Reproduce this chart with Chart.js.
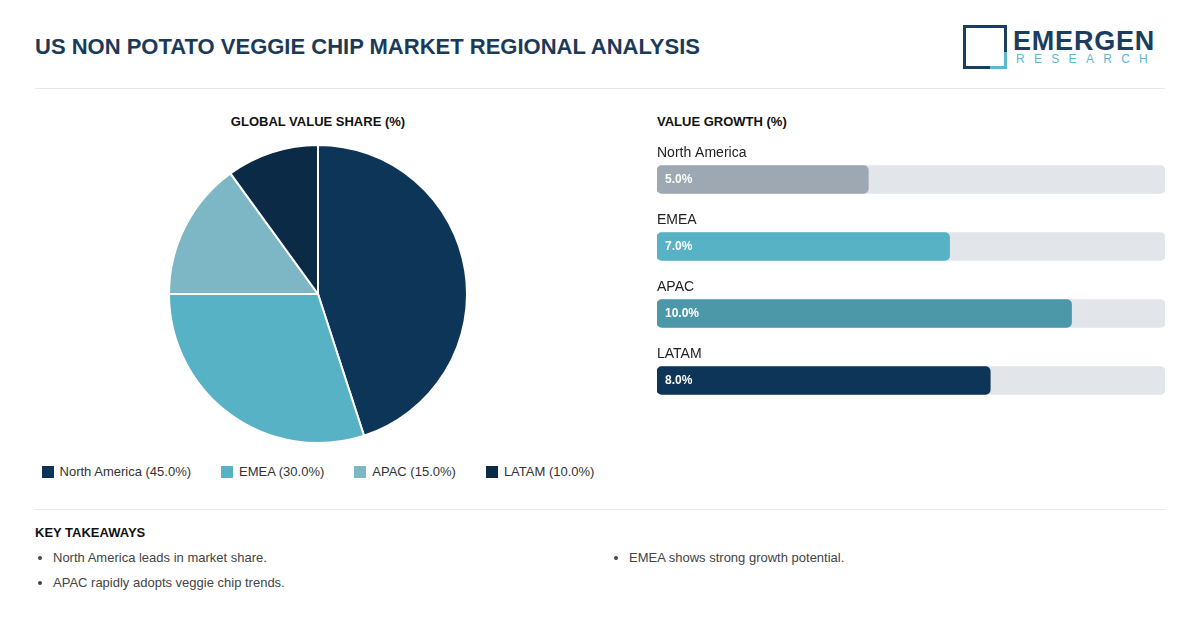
<!DOCTYPE html>
<html>
<head>
<meta charset="utf-8">
<script src="https://cdn.jsdelivr.net/npm/chart.js@4.4.1/dist/chart.umd.min.js"></script>
<style>
  body { margin: 0; background: #fff; font-family: "Liberation Sans", Arial, sans-serif; }
  #page { position: relative; width: 1200px; height: 620px; overflow: hidden; }
  .abs { position: absolute; }
  #title { left: 35px; top: 34px; font-size: 22px; font-weight: bold; color: #1b3a5a; line-height: 26px; }
  .rule { left: 35px; width: 1130px; height: 1px; background: #e3e6ea; }
  .sub { font-size: 13px; font-weight: bold; color: #111; line-height: 16px; }
  #legend { left: 18px; width: 600px; top: 464px; display: flex; justify-content: center; gap: 30px; font-size: 13px; color: #333; }
  #legend span.item { display: flex; align-items: center; }
  #legend i { display: inline-block; width: 12px; height: 12px; margin-right: 6px; }
  ul { margin: 0; padding-left: 18px; font-size: 13px; color: #444; }
  li { line-height: 25px; }
  #logoBox { left: 963px; top: 25px; width: 38px; height: 38px; border: 3px solid #1b3d5e; }
  #logoAccentV { left: 1004px; top: 52px; width: 3px; height: 17px; background: #5bb8cf; }
  #logoAccentH { left: 990px; top: 66px; width: 17px; height: 3px; background: #5bb8cf; }
  #logoText { left: 1013px; top: 25px; font-size: 27px; font-weight: bold; color: #1b3d5e; letter-spacing: 0.8px; line-height: 32px; }
  #logoSub { left: 1016px; top: 52px; font-size: 12px; color: #5bb8cf; letter-spacing: 9.3px; line-height: 14px; }
</style>
</head>
<body>
<div id="page">
  <div id="title" class="abs">US NON POTATO VEGGIE CHIP MARKET REGIONAL ANALYSIS</div>
  <div id="logoBox" class="abs"></div>
  <div id="logoAccentV" class="abs"></div>
  <div id="logoAccentH" class="abs"></div>
  <div id="logoText" class="abs">EMERGEN</div>
  <div id="logoSub" class="abs">RESEARCH</div>
  <div class="abs rule" style="top:88px"></div>

  <div class="abs sub" style="left:18px;width:600px;text-align:center;top:114px">GLOBAL VALUE SHARE (%)</div>
  <div class="abs sub" style="left:657px;top:114px">VALUE GROWTH (%)</div>

  <div class="abs" style="left:168px;top:144px;width:300px;height:300px"><canvas id="pie"></canvas></div>
  <div id="legend" class="abs"></div>

  <div class="abs" style="left:657px;top:146px;width:508px;height:268px"><canvas id="bars"></canvas></div>

  <div class="abs rule" style="top:509px"></div>
  <div class="abs sub" style="left:35px;top:525px">KEY TAKEAWAYS</div>
  <div class="abs" style="left:35px;top:545px;width:560px"><ul id="tk1"></ul></div>
  <div class="abs" style="left:611px;top:545px;width:560px"><ul id="tk2"></ul></div>
</div>
<script>
var regions = ['North America', 'EMEA', 'APAC', 'LATAM'];
var shareValues = [45, 30, 15, 10];
var growthValues = [5.0, 7.0, 10.0, 8.0];
var pieColors = ['#0d3557', '#58b2c5', '#7db7c5', '#0b2a45'];
var barColors = ['#9ea8b3', '#58b2c5', '#4c97a8', '#0d3557'];
var takeawaysLeft = ['North America leads in market share.', 'APAC rapidly adopts veggie chip trends.'];
var takeawaysRight = ['EMEA shows strong growth potential.'];

var xMin = -0.2;
var xMax = 12.3;

// legend under the pie
var legend = document.getElementById('legend');
regions.forEach(function (r, i) {
  var s = document.createElement('span');
  s.className = 'item';
  s.innerHTML = '<i style="background:' + pieColors[i] + '"></i>' + r + ' (' + shareValues[i].toFixed(1) + '%)';
  legend.appendChild(s);
});

takeawaysLeft.forEach(function (t) {
  var li = document.createElement('li'); li.textContent = t;
  document.getElementById('tk1').appendChild(li);
});
takeawaysRight.forEach(function (t) {
  var li = document.createElement('li'); li.textContent = t;
  document.getElementById('tk2').appendChild(li);
});

new Chart(document.getElementById('pie'), {
  type: 'pie',
  data: {
    labels: regions,
    datasets: [{
      data: shareValues,
      backgroundColor: pieColors,
      borderColor: '#ffffff',
      borderWidth: 2
    }]
  },
  options: {
    responsive: true,
    maintainAspectRatio: false,
    animation: false,
    plugins: { legend: { display: false }, tooltip: { enabled: false } }
  }
});

var barLabels = {
  id: 'barLabels',
  afterDatasetsDraw: function (chart) {
    var ctx = chart.ctx;
    var meta = chart.getDatasetMeta(1);
    ctx.save();
    meta.data.forEach(function (bar, i) {
      ctx.textBaseline = 'middle';
      ctx.textAlign = 'left';
      ctx.fillStyle = '#222';
      ctx.font = '14px "Liberation Sans", Arial, sans-serif';
      ctx.fillText(regions[i], bar.base, bar.y - 26);
      ctx.fillStyle = '#ffffff';
      ctx.font = 'bold 12px "Liberation Sans", Arial, sans-serif';
      ctx.fillText(growthValues[i].toFixed(1) + '%', bar.base + 8, bar.y);
    });
    ctx.restore();
  }
};

new Chart(document.getElementById('bars'), {
  type: 'bar',
  data: {
    labels: regions,
    datasets: [{
      data: regions.map(function () { return xMax; }),
      backgroundColor: '#e2e6ea',
      base: xMin,
      borderRadius: 5,
      borderSkipped: false,
      barThickness: 28,
      grouped: false,
      order: 2
    }, {
      data: growthValues,
      backgroundColor: barColors,
      base: xMin,
      borderRadius: 5,
      borderSkipped: false,
      barThickness: 28,
      grouped: false,
      order: 1
    }]
  },
  options: {
    indexAxis: 'y',
    responsive: true,
    maintainAspectRatio: false,
    animation: false,
    layout: { padding: 0 },
    scales: {
      x: { display: false, min: xMin, max: xMax },
      y: { display: false, offset: true }
    },
    plugins: { legend: { display: false }, tooltip: { enabled: false } }
  },
  plugins: [barLabels]
});
</script>
</body>
</html>
